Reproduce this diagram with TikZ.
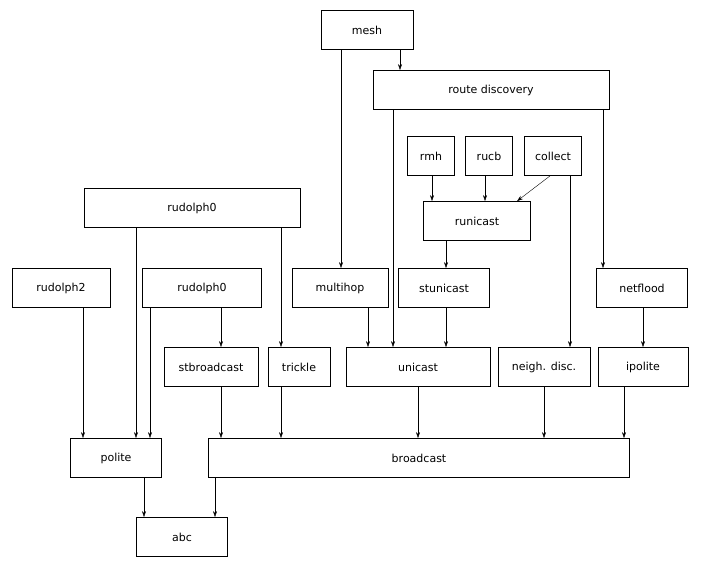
\documentclass[tikz,border=0pt]{standalone}
\usepackage{fontspec}
\setmainfont{DejaVu Sans}
\usetikzlibrary{arrows.meta}
\begin{document}
\begin{tikzpicture}[x=1pt,y=-1pt,
    box/.style={draw, thick, minimum height=39pt, inner sep=0pt, font=\fontsize{11}{13}\selectfont},
    arr/.style={-{Stealth[length=6pt,width=4pt]}}]
    \useasboundingbox (0,0) rectangle (719,565);
    % Top layer
    \node[box, minimum width=92pt] (mesh) at (367,30) {mesh};
    \node[box, minimum width=236pt] (route) at (491,90) {route discovery};
    \node[box, minimum width=47pt] (rmh) at (431,156) {rmh};
    \node[box, minimum width=47pt] (rucb) at (489,156) {rucb};
    \node[box, minimum width=57pt] (collect) at (553,156) {collect};
    \node[box, minimum width=107pt] (runicast) at (477,221) {runicast};
    \node[box, minimum width=216pt] (rudolphA) at (192,208) {rudolph0};

    % Middle layer
    \node[box, minimum width=98pt] (rudolphB) at (61,288) {rudolph2};
    \node[box, minimum width=119pt] (rudolphC) at (202,288) {rudolph0};
    \node[box, minimum width=96pt] (multihop) at (340,288) {multihop};
    \node[box, minimum width=91pt] (stunicast) at (444,288) {stunicast};
    \node[box, minimum width=91pt] (netflood) at (642,288) {netflood};

    \node[box, minimum width=94pt] (stbroadcast) at (211,367) {stbroadcast};
    \node[box, minimum width=62pt] (trickle) at (299,367) {trickle};
    \node[box, minimum width=144pt] (unicast) at (418,367) {unicast};
    \node[box, minimum width=92pt] (neigh) at (544,367) {neigh. disc.};
    \node[box, minimum width=90pt] (ipolite) at (643,367) {ipolite};

    % Bottom layer
    \node[box, minimum width=91pt] (polite) at (116,458) {polite};
    \node[box, minimum width=421pt] (broadcast) at (419,458) {broadcast};
    \node[box, minimum width=91pt] (abc) at (182,537) {abc};

    % Connections
    \draw[arr] (mesh.south -| 400,0) -- (route.north -| 400,0);
    \draw[arr] (mesh.south -| 341,0) -- (multihop.north -| 341,0);
    \draw[arr] (route.south -| 393,0) -- (unicast.north -| 393,0);
    \draw[arr] (route.south -| 603,0) -- (netflood.north -| 603,0);
    \draw[arr] (rmh.south -| 432,0) -- (runicast.north -| 432,0);
    \draw[arr] (rucb.south -| 485,0) -- (runicast.north -| 485,0);
    \draw[arr] (collect.south -| 550,0) -- (runicast.north -| 517,0);
    \draw[arr] (collect.south -| 570,0) -- (neigh.north -| 570,0);
    \draw[arr] (runicast.south -| 446,0) -- (stunicast.north -| 446,0);
    \draw[arr] (stunicast.south -| 446,0) -- (unicast.north -| 446,0);
    \draw[arr] (multihop.south -| 368,0) -- (unicast.north -| 368,0);
    \draw[arr] (rudolphA.south -| 136,0) -- (polite.north -| 136,0);
    \draw[arr] (rudolphA.south -| 281,0) -- (trickle.north -| 281,0);
    \draw[arr] (rudolphB.south -| 83,0) -- (polite.north -| 83,0);
    \draw[arr] (rudolphC.south -| 150,0) -- (polite.north -| 150,0);
    \draw[arr] (rudolphC.south -| 221,0) -- (stbroadcast.north -| 221,0);
    \draw[arr] (netflood.south -| 643,0) -- (ipolite.north -| 643,0);
    \foreach \s/\x in {stbroadcast/221, trickle/281, unicast/418, neigh/544, ipolite/624}
        \draw[arr] (\s.south -| \x,0) -- (broadcast.north -| \x,0);
    \draw[arr] (polite.south -| 144,0) -- (abc.north -| 144,0);
    \draw[arr] (broadcast.south -| 215,0) -- (abc.north -| 215,0);
\end{tikzpicture}
\end{document}
